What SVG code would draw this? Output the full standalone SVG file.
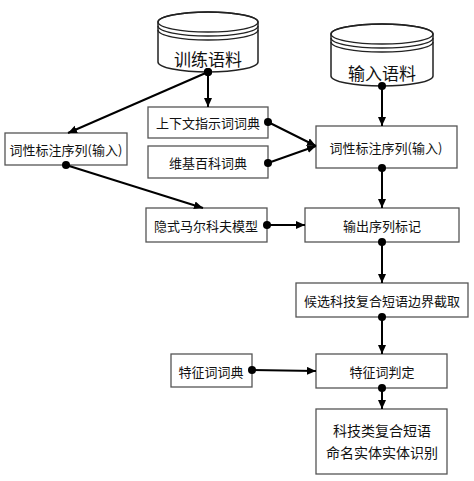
<svg xmlns="http://www.w3.org/2000/svg" width="474" height="481" viewBox="0 0 474 481">
<style>
.box{fill:#fff;stroke:#555;stroke-width:1.3}
.cyl{fill:#fff;stroke:#222;stroke-width:1.5}
.ring{fill:none;stroke:#222;stroke-width:1.3}
.t{font-family:"Noto Sans CJK SC","Liberation Sans",sans-serif;font-size:13px;fill:#111;text-anchor:middle;dominant-baseline:central}
.tb{font-size:17px}
.tf{font-size:14px}
.c{fill:none;stroke:#000;stroke-width:2;marker-start:url(#dot);marker-end:url(#arr)}
</style>
<defs>
<marker id="arr" markerUnits="userSpaceOnUse" markerWidth="10" markerHeight="10" refX="9" refY="4" orient="auto">
<path d="M0,0 L9,4 L0,8 z" fill="#000"/>
</marker>
<marker id="dot" markerUnits="userSpaceOnUse" markerWidth="10" markerHeight="10" refX="5" refY="5">
<circle cx="5" cy="5" r="4" fill="#000"/>
</marker>
</defs>
<rect width="474" height="481" fill="#fff"/>
<g id="corpus-train">
<path class="cyl" d="M158,22 A50,10 0 0 1 258,22 L258,62 A50,10 0 0 1 158,62 Z"/>
<ellipse class="ring" cx="208" cy="22" rx="50" ry="10"/>
<path class="ring" d="M158,26 A50,10 0 0 0 258,26 M158,30 A50,10 0 0 0 258,30"/>
<text class="t tb" x="208" y="58">训练语料</text>
</g>
<g id="corpus-input">
<path class="cyl" d="M331,34 A51,10 0 0 1 433,34 L433,76 A51,10 0 0 1 331,76 Z"/>
<ellipse class="ring" cx="382" cy="34" rx="51" ry="10"/>
<path class="ring" d="M331,38 A51,10 0 0 0 433,38 M331,42 A51,10 0 0 0 433,42"/>
<text class="t tb" x="382" y="72">输入语料</text>
</g>
<g id="context-dict">
<rect class="box" x="148" y="107" width="120" height="31"/>
<text class="t" x="208" y="122">上下文指示词词典</text>
</g>
<g id="wiki-dict">
<rect class="box" x="148" y="146" width="120" height="32"/>
<text class="t" x="208" y="162">维基百科词典</text>
</g>
<g id="pos-left">
<rect class="box" x="5" y="133" width="122" height="32"/>
<text class="t" x="66" y="149">词性标注序列(输入)</text>
</g>
<g id="pos-right">
<rect class="box" x="316" y="126" width="141" height="42"/>
<text class="t" x="386" y="147">词性标注序列(输入)</text>
</g>
<g id="hmm">
<rect class="box" x="146" y="208" width="121" height="34"/>
<text class="t" x="206" y="225">隐式马尔科夫模型</text>
</g>
<g id="output-tag">
<rect class="box" x="305" y="208" width="154" height="34"/>
<text class="t" x="382" y="225">输出序列标记</text>
</g>
<g id="boundary">
<rect class="box" x="296" y="283" width="172" height="34"/>
<text class="t" x="382" y="300">候选科技复合短语边界截取</text>
</g>
<g id="feature-dict">
<rect class="box" x="171" y="354" width="81" height="33"/>
<text class="t" x="211" y="371">特征词词典</text>
</g>
<g id="feature-judge">
<rect class="box" x="316" y="354" width="131" height="34"/>
<text class="t" x="382" y="371">特征词判定</text>
</g>
<g id="ner">
<rect class="box" x="316" y="409" width="131" height="65"/>
<text class="t tf" x="382" y="430">科技类复合短语</text>
<text class="t tf" x="382" y="452">命名实体实体识别</text>
</g>
<g id="connectors">
<path class="c" d="M208,72 L208,107"/>
<path class="c" d="M208,72 L68,133"/>
<path class="c" d="M66,165 L203,208"/>
<path class="c" d="M268,122 L316,146"/>
<path class="c" d="M268,163 L316,146"/>
<path class="c" d="M382,86 L382,126"/>
<path class="c" d="M382,168 L382,208"/>
<path class="c" d="M267,225 L305,225"/>
<path class="c" d="M382,242 L382,283"/>
<path class="c" d="M382,317 L382,354"/>
<path class="c" d="M252,370 L316,371"/>
<path class="c" d="M382,388 L382,409"/>
</g>
</svg>
